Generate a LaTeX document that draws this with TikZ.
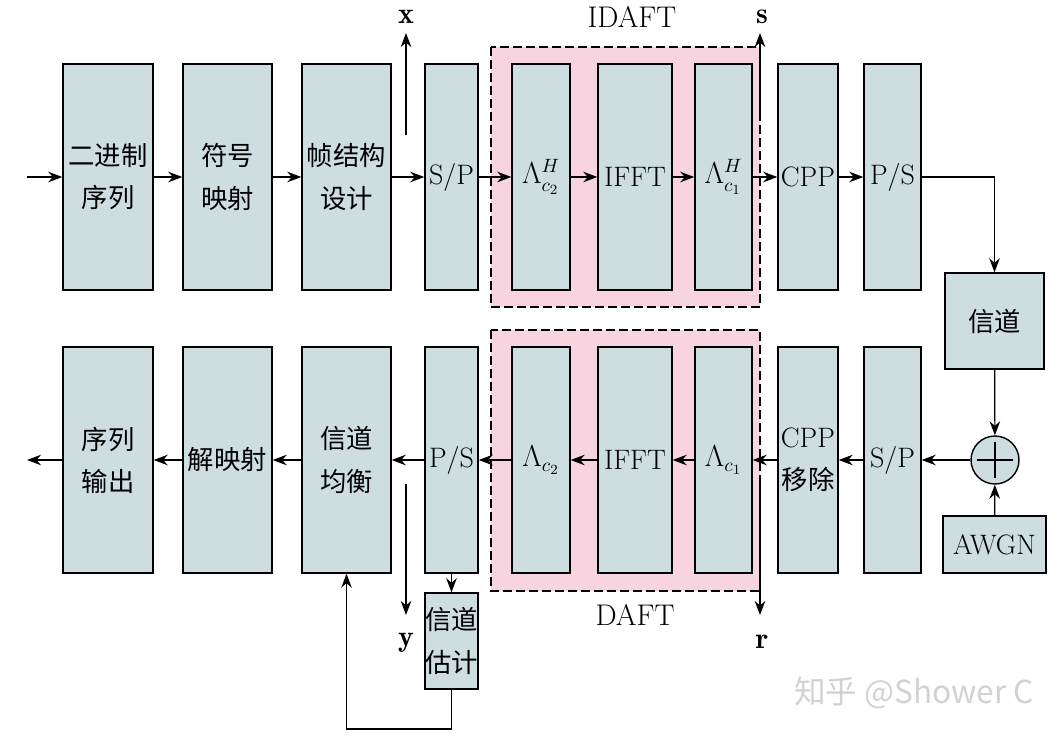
\documentclass[tikz,border=0pt]{standalone}
\usepackage{amsmath}
\usepackage{fontspec}
\newfontfamily\cjk{Noto Sans CJK SC}
\newcommand\zhfont{\cjk\fontsize{15}{24}\selectfont}
\usetikzlibrary{arrows,arrows.meta,shapes}
\definecolor{blockfill}{RGB}{205,221,224}
\definecolor{daftpink}{RGB}{247,212,224}
\tikzstyle{block}=[draw,fill=blockfill,line width=0.8pt,inner sep=0pt,align=center,font=\fontsize{16}{24}\selectfont]
\tikzstyle{tall block}=[block,minimum height=4.52cm]
\tikzstyle{region}=[draw,fill=daftpink,dash pattern=on 5pt off 2.4pt,line width=0.8pt]
\tikzstyle{link}=[draw,line width=0.7pt,-{Stealth[length=8pt,width=6pt,inset=2.6pt]}]
\tikzstyle{tag}=[font=\fontsize{17}{20}\selectfont,inner sep=1pt]

\begin{document}
\begin{tikzpicture}[x=0.02cm,y=-0.02cm]
    \useasboundingbox (0,0) rectangle (1063,738);
    % Shaded DAFT / IDAFT regions
    \path[region] (491,47) rectangle (760,307);
    \path[region] (491,330) rectangle (760,591);

    % First we draw the blocks of the transmitter
    \foreach \pos/\w/\name/\txt in {{(108,177)/90/bin/{\zhfont 二进制\\\zhfont 序列}}, {(227.5,177)/89/map/{\zhfont 符号\\\zhfont 映射}}, {(346.5,177)/89/frame/{\zhfont 帧结构\\\zhfont 设计}}, {(451.5,177)/53/sp1/{S/P}}, {(541,177)/58/lamtwoh/{$\Lambda_{c_2}^{H}$}}, {(635,177)/74/iffttx/{IFFT}}, {(723.5,177)/57/lamoneh/{$\Lambda_{c_1}^{H}$}}, {(808,177)/60/cpp/{CPP}}, {(892.5,177)/57/ps1/{P/S}}}
        \node[tall block,minimum width=\w*0.02cm] (\name) at \pos {\txt};

    % Then the blocks of the receiver
    \foreach \pos/\w/\name/\txt in {{(108,460)/90/seqout/{\zhfont 序列\\\zhfont 输出}}, {(227.5,460)/89/demap/{\zhfont 解映射}}, {(346.5,460)/89/equal/{\zhfont 信道\\\zhfont 均衡}}, {(451.5,460)/53/ps2/{P/S}}, {(541,460)/58/lamtwo/{$\Lambda_{c_2}$}}, {(635,460)/74/ifftrx/{IFFT}}, {(723.5,460)/57/lamone/{$\Lambda_{c_1}$}}, {(808,460)/60/cpprm/{CPP\\\zhfont 移除}}, {(892.5,460)/57/sp2/{S/P}}}
        \node[tall block,minimum width=\w*0.02cm] (\name) at \pos {\txt};

    % Channel, noise and estimation
    \node[block,minimum width=1.98cm,minimum height=1.92cm] (chan) at (994.5,321) {\zhfont 信道};
    \node[block,circle,minimum size=0.96cm] (plus) at (995,460) {};
    \node[block,minimum width=2.06cm,minimum height=1.14cm] (awgn) at (994.5,544.5) {AWGN};
    \node[block,minimum width=1.06cm,minimum height=1.92cm] (est) at (451.5,641) {\zhfont 信道\\\zhfont 估计};
    \draw[line width=0.8pt,shorten <=0.14cm,shorten >=0.14cm] (plus.north) -- (plus.south);
    \draw[line width=0.8pt,shorten <=0.14cm,shorten >=0.14cm] (plus.west) -- (plus.east);

    % Labels
    \node[tag] (idaft) at (632,17) {IDAFT};
    \node[tag] (daft) at (635,615) {DAFT};
    \node[tag] (xlab) at (406,17) {$\mathbf{x}$};
    \node[tag] (slab) at (762,17) {$\mathbf{s}$};
    \node[tag] (ylab) at (406,643) {$\mathbf{y}$};
    \node[tag] (rlab) at (762,642) {$\mathbf{r}$};
    \node[text=gray!35,font=\cjk\fontsize{18}{20}\selectfont] (mark) at (914,693) {知乎 @Shower C};

    % Free ends of the connectors
    \coordinate (in) at (27,177);
    \coordinate (outend) at (27,460);
    \coordinate (xtap) at (406,135);
    \coordinate (xtip) at (406,33);
    \coordinate (stap) at (760,117);
    \coordinate (stip) at (760,33);
    \coordinate (ytap) at (406,484);
    \coordinate (ytip) at (406,615);
    \coordinate (rtap) at (760,484);
    \coordinate (rtip) at (760,615);
    \coordinate (loop) at (451.5,729);

    % Connect blocks with arrows
    \foreach \source/\dest in {in/bin, bin/map, map/frame, frame/sp1, sp1/lamtwoh, lamtwoh/iffttx, iffttx/lamoneh, lamoneh/cpp, cpp/ps1, chan/plus, awgn/plus, plus/sp2, sp2/cpprm, cpprm/lamone, lamone/ifftrx, ifftrx/lamtwo, lamtwo/ps2, ps2/equal, equal/demap, demap/seqout, seqout/outend, ps2/est, xtap/xtip, stap/stip, ytap/ytip, rtap/rtip}
        \path[link] (\source) -- (\dest);
    \path[link] (ps1.east) -| (chan.north);
    \path[link] (est.south) -- (loop) -| (equal.south);
\end{tikzpicture}
\end{document}
